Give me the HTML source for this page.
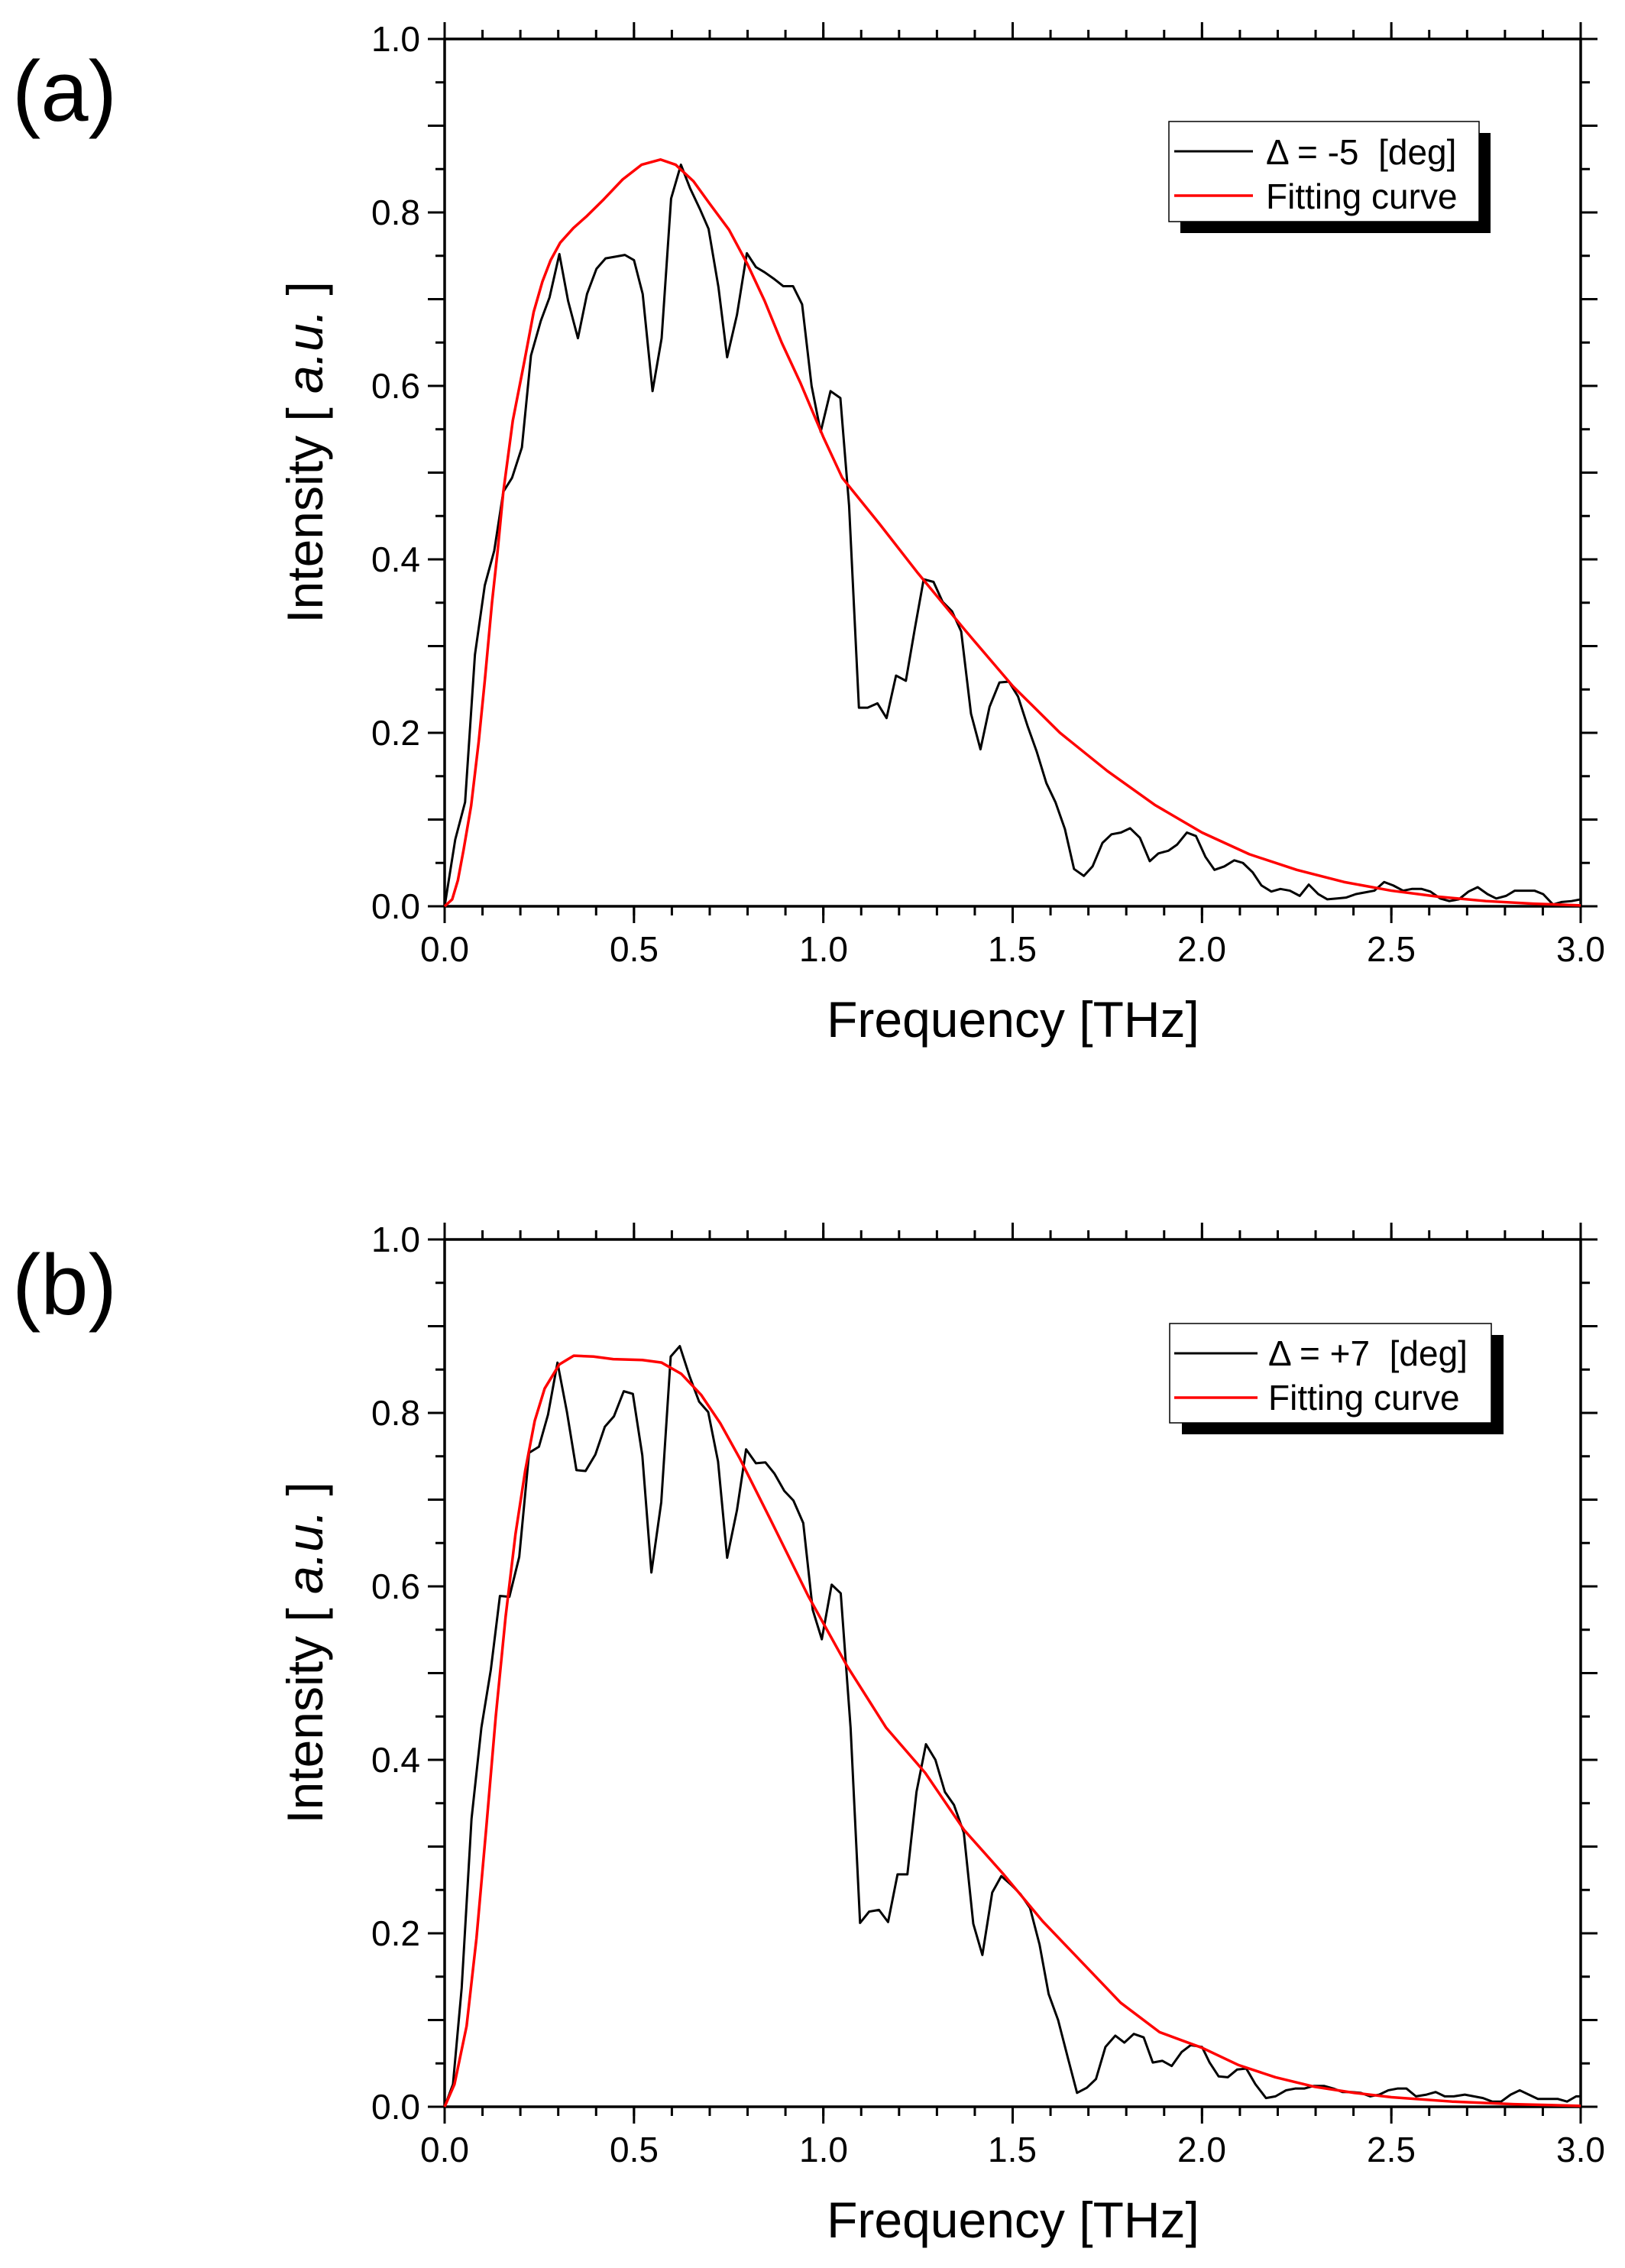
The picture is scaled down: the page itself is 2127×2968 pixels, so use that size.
<!DOCTYPE html>
<html><head><meta charset="utf-8"><style>
html,body{margin:0;padding:0;background:#fff}
svg{display:block}
text{font-family:"Liberation Sans",Arial,sans-serif;fill:#000}
</style></head><body>
<svg width="2127" height="2968" viewBox="0 0 2127 2968" xmlns="http://www.w3.org/2000/svg">
<defs>
<g id="frame">
  <!-- left ticks (outward) -->
  <line x1="576" y1="1187.5" x2="576" y2="48" stroke="#000" stroke-width="12" stroke-dasharray="3 53.75"/>
  <line x1="571" y1="1187.5" x2="571" y2="48" stroke="#000" stroke-width="22" stroke-dasharray="3 110.5"/>
  <!-- right ticks -->
  <line x1="2075" y1="1187.5" x2="2075" y2="48" stroke="#000" stroke-width="12" stroke-dasharray="3 53.75"/>
  <line x1="2080" y1="1187.5" x2="2080" y2="48" stroke="#000" stroke-width="22" stroke-dasharray="3 110.5"/>
  <!-- bottom ticks -->
  <line x1="580.5" y1="1192" x2="2072" y2="1192" stroke="#000" stroke-width="12" stroke-dasharray="3 46.567"/>
  <line x1="580.5" y1="1197" x2="2072" y2="1197" stroke="#000" stroke-width="22" stroke-dasharray="3 244.83"/>
  <!-- top ticks -->
  <line x1="580.5" y1="45" x2="2072" y2="45" stroke="#000" stroke-width="12" stroke-dasharray="3 46.567"/>
  <line x1="580.5" y1="40" x2="2072" y2="40" stroke="#000" stroke-width="22" stroke-dasharray="3 244.83"/>
  <rect x="582" y="51" width="1487" height="1135" fill="none" stroke="#000" stroke-width="3.5"/>
  <!-- y labels -->
  <g font-size="46" text-anchor="end">
    <text x="550" y="1202">0.0</text>
    <text x="550" y="975">0.2</text>
    <text x="550" y="748">0.4</text>
    <text x="550" y="521">0.6</text>
    <text x="550" y="294">0.8</text>
    <text x="550" y="67">1.0</text>
  </g>
  <g font-size="46" text-anchor="middle">
    <text x="582" y="1258">0.0</text>
    <text x="830" y="1258">0.5</text>
    <text x="1078" y="1258">1.0</text>
    <text x="1325" y="1258">1.5</text>
    <text x="1573" y="1258">2.0</text>
    <text x="1821" y="1258">2.5</text>
    <text x="2069" y="1258">3.0</text>
  </g>
  <text x="1326" y="1357" font-size="66" text-anchor="middle">Frequency [THz]</text>
  <text transform="translate(422,592) rotate(-90)" font-size="66" text-anchor="middle">Intensity [ <tspan font-style="italic">a.u.</tspan> ]</text>
</g>
</defs>

<!-- Panel A -->
<use href="#frame"/>
<text x="16" y="158" font-size="112">(a)</text>
<g transform="translate(582,1186) scale(495.67,-1135)" fill="none">
<polyline vector-effect="non-scaling-stroke" stroke="#000" stroke-width="3" stroke-linejoin="round" points="0,0 0.028,0.077 0.054,0.12 0.08,0.29 0.106,0.37 0.131,0.41 0.155,0.478 0.178,0.494 0.204,0.529 0.228,0.635 0.254,0.675 0.277,0.702 0.303,0.752 0.326,0.698 0.352,0.655 0.376,0.706 0.401,0.735 0.425,0.747 0.451,0.749 0.476,0.751 0.5,0.745 0.523,0.706 0.549,0.594 0.573,0.655 0.598,0.816 0.624,0.855 0.648,0.828 0.674,0.804 0.697,0.781 0.723,0.714 0.746,0.633 0.772,0.682 0.798,0.753 0.822,0.737 0.845,0.731 0.871,0.723 0.894,0.715 0.92,0.715 0.944,0.694 0.969,0.6 0.993,0.547 1.019,0.594 1.045,0.586 1.068,0.462 1.094,0.229 1.117,0.229 1.143,0.234 1.167,0.217 1.192,0.266 1.218,0.26 1.242,0.321 1.265,0.377 1.291,0.374 1.315,0.351 1.34,0.34 1.364,0.317 1.39,0.222 1.415,0.181 1.439,0.23 1.465,0.258 1.49,0.259 1.514,0.242 1.54,0.207 1.563,0.179 1.589,0.142 1.613,0.12 1.638,0.089 1.662,0.043 1.688,0.035 1.711,0.046 1.737,0.073 1.761,0.083 1.786,0.085 1.81,0.09 1.836,0.079 1.862,0.052 1.885,0.061 1.911,0.064 1.934,0.071 1.96,0.085 1.984,0.081 2.009,0.057 2.033,0.042 2.059,0.046 2.085,0.053 2.108,0.05 2.134,0.039 2.157,0.024 2.183,0.017 2.207,0.02 2.232,0.018 2.258,0.012 2.282,0.025 2.307,0.014 2.331,0.008 2.357,0.009 2.38,0.01 2.406,0.014 2.43,0.016 2.455,0.018 2.481,0.028 2.505,0.024 2.531,0.018 2.554,0.02 2.58,0.02 2.603,0.017 2.629,0.009 2.653,0.006 2.678,0.008 2.704,0.017 2.728,0.022 2.754,0.014 2.777,0.009 2.803,0.012 2.826,0.018 2.852,0.018 2.878,0.018 2.901,0.014 2.927,0.002 2.95,0.005 2.976,0.006 3,0.008"/>
<polyline vector-effect="non-scaling-stroke" stroke="#f00" stroke-width="3.5" stroke-linejoin="round" points="0,0 0.02,0.008 0.035,0.03 0.05,0.065 0.07,0.116 0.09,0.19 0.106,0.26 0.125,0.35 0.14,0.41 0.155,0.478 0.18,0.56 0.21,0.627 0.235,0.685 0.258,0.72 0.28,0.745 0.305,0.765 0.34,0.782 0.376,0.796 0.42,0.815 0.47,0.838 0.52,0.855 0.57,0.861 0.61,0.855 0.657,0.836 0.7,0.81 0.751,0.78 0.8,0.74 0.845,0.698 0.89,0.65 0.939,0.604 1.0,0.541 1.05,0.494 1.15,0.44 1.25,0.384 1.375,0.318 1.5,0.254 1.625,0.2 1.75,0.156 1.875,0.117 2.0,0.085 2.125,0.06 2.25,0.042 2.375,0.028 2.5,0.018 2.625,0.011 2.75,0.006 2.875,0.003 3,0.001"/>
</g>
<!-- legend A -->
<rect x="1545" y="174" width="406" height="131" fill="#000"/>
<rect x="1530" y="159" width="406" height="131" fill="#fff" stroke="#000" stroke-width="1.5"/>
<line x1="1537" y1="198" x2="1640" y2="198" stroke="#000" stroke-width="3"/>
<line x1="1537" y1="256" x2="1640" y2="256" stroke="#f00" stroke-width="3.5"/>
<text x="1657" y="215" font-size="46" xml:space="preserve">Δ = -5  [deg]</text>
<text x="1657" y="273" font-size="46">Fitting curve</text>

<!-- Panel B -->
<use href="#frame" transform="translate(0,1571)"/>
<text x="16" y="1720" font-size="112">(b)</text>
<g transform="translate(582,2757) scale(495.67,-1135)" fill="none">
<polyline vector-effect="non-scaling-stroke" stroke="#000" stroke-width="3" stroke-linejoin="round" points="0,0 0.022,0.026 0.045,0.137 0.071,0.332 0.097,0.437 0.122,0.504 0.146,0.589 0.171,0.588 0.197,0.634 0.223,0.754 0.249,0.761 0.273,0.798 0.298,0.858 0.323,0.801 0.348,0.734 0.372,0.733 0.398,0.752 0.423,0.784 0.447,0.796 0.473,0.825 0.497,0.822 0.522,0.751 0.546,0.616 0.572,0.697 0.597,0.865 0.621,0.877 0.647,0.842 0.672,0.813 0.696,0.801 0.722,0.744 0.746,0.633 0.772,0.688 0.796,0.758 0.822,0.742 0.847,0.743 0.871,0.73 0.897,0.71 0.921,0.699 0.947,0.673 0.972,0.573 0.996,0.539 1.022,0.602 1.046,0.592 1.072,0.437 1.097,0.212 1.121,0.225 1.147,0.227 1.171,0.213 1.196,0.268 1.222,0.268 1.246,0.363 1.271,0.418 1.296,0.4 1.321,0.363 1.345,0.348 1.371,0.316 1.396,0.211 1.42,0.175 1.446,0.247 1.47,0.266 1.496,0.256 1.521,0.245 1.546,0.229 1.571,0.187 1.595,0.13 1.62,0.1 1.646,0.056 1.67,0.016 1.696,0.022 1.72,0.032 1.745,0.069 1.771,0.082 1.795,0.074 1.82,0.084 1.846,0.08 1.87,0.051 1.895,0.053 1.92,0.047 1.946,0.063 1.97,0.071 2.0,0.069 2.02,0.051 2.044,0.035 2.068,0.034 2.093,0.043 2.117,0.044 2.141,0.026 2.169,0.01 2.194,0.012 2.222,0.019 2.246,0.021 2.27,0.021 2.294,0.024 2.323,0.024 2.347,0.021 2.371,0.017 2.395,0.017 2.419,0.016 2.444,0.012 2.468,0.014 2.492,0.019 2.516,0.021 2.54,0.021 2.565,0.012 2.593,0.014 2.617,0.017 2.641,0.012 2.665,0.012 2.694,0.014 2.718,0.012 2.742,0.01 2.766,0.006 2.79,0.006 2.815,0.014 2.839,0.019 2.863,0.014 2.887,0.009 2.911,0.009 2.94,0.009 2.964,0.006 2.988,0.012 3,0.012"/>
<polyline vector-effect="non-scaling-stroke" stroke="#f00" stroke-width="3.5" stroke-linejoin="round" points="0,0 0.026,0.026 0.058,0.093 0.084,0.194 0.11,0.322 0.135,0.45 0.161,0.565 0.187,0.66 0.213,0.734 0.238,0.791 0.264,0.828 0.303,0.856 0.341,0.866 0.393,0.865 0.445,0.862 0.522,0.861 0.573,0.858 0.625,0.845 0.677,0.821 0.728,0.788 0.78,0.747 0.857,0.68 0.96,0.589 1.063,0.508 1.166,0.437 1.269,0.385 1.372,0.319 1.476,0.268 1.579,0.214 1.682,0.167 1.785,0.12 1.888,0.086 2.0,0.068 2.097,0.048 2.194,0.034 2.298,0.023 2.403,0.016 2.5,0.011 2.66,0.006 2.823,0.003 3,0.001"/>
</g>
<!-- legend B -->
<rect x="1547" y="1747" width="421" height="130" fill="#000"/>
<rect x="1531" y="1732" width="421" height="130" fill="#fff" stroke="#000" stroke-width="1.5"/>
<line x1="1537" y1="1771" x2="1646" y2="1771" stroke="#000" stroke-width="3"/>
<line x1="1537" y1="1829" x2="1646" y2="1829" stroke="#f00" stroke-width="3.5"/>
<text x="1660" y="1787" font-size="46" xml:space="preserve">Δ = +7  [deg]</text>
<text x="1660" y="1845" font-size="46">Fitting curve</text>
</svg>
</body></html>
